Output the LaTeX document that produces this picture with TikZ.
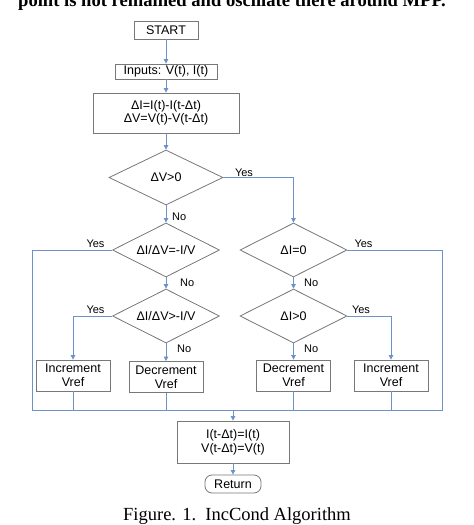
\documentclass[tikz,border=0pt]{standalone}
\usepackage{fontspec}
\setmainfont{Liberation Sans}
\newfontfamily\seriffont{Liberation Serif}
\usetikzlibrary{shapes.geometric,arrows.meta,calc}
\definecolor{lineblue}{RGB}{110,145,200}
\definecolor{bord}{RGB}{120,120,120}
\begin{document}
\begin{tikzpicture}[x=1pt,y=-1pt,
 box/.style={draw=bord,line width=0.8pt,inner sep=0pt,align=center,font=\fontsize{12.5}{14}\selectfont},
 dec/.style={draw=bord,line width=0.8pt,diamond,aspect=2,inner sep=0pt,minimum width=107pt,minimum height=54pt,font=\fontsize{12.5}{14}\selectfont},
 wire/.style={draw=lineblue,line width=0.8pt},
 arr/.style={wire,-{Triangle[width=4.5pt,length=4.5pt]}},
 lab/.style={font=\fontsize{11}{12}\selectfont,inner sep=0pt}]
\useasboundingbox (0,0) rectangle (474,525);
\clip (0,0) rectangle (474,525);
\node[anchor=base,inner sep=0pt,font=\seriffont\bfseries\fontsize{18.6}{20}\selectfont] (toptext) at (232,6) {point is not remained and oscillate there around MPP.};
\node[anchor=base,inner sep=0pt,font=\seriffont\fontsize{18.5}{20}\selectfont] (cap) at (237,520) {Figure. 1.\ \ IncCond Algorithm};

\node[box,minimum width=64pt,minimum height=18pt] (start) at (166,30) {START};
\node[box,minimum width=102pt,minimum height=15pt] (inp) at (166,71.5) {Inputs: V(t), I(t)};
\node[box,minimum width=146pt,minimum height=40pt,font=\fontsize{12.5}{12.5}\selectfont] (calc) at (166,113) {ΔI=I(t)-I(t-Δt)\\ΔV=V(t)-V(t-Δt)};
\node[dec,minimum width=114pt,minimum height=55pt] (dv) at (166,177.5) {ΔV>0};
\node[dec] (d1) at (166,250) {ΔI/ΔV=-I/V};
\node[dec] (d2) at (166,316) {ΔI/ΔV>-I/V};
\node[dec] (d3) at (293.5,250) {ΔI=0};
\node[dec] (d4) at (293.5,316) {ΔI>0};
\node[box,minimum width=74pt,minimum height=31pt] (inc1) at (73,375.5) {Increment\\Vref};
\node[box,minimum width=74pt,minimum height=31pt] (dec1) at (166,377) {Decrement\\Vref};
\node[box,minimum width=74pt,minimum height=31pt] (dec2) at (293.5,375.5) {Decrement\\Vref};
\node[box,minimum width=74pt,minimum height=31pt] (inc2) at (391,375.5) {Increment\\Vref};
\node[box,minimum width=112pt,minimum height=42pt] (upd) at (233,442) {I(t-Δt)=I(t)\\V(t-Δt)=V(t)};
\node[box,minimum width=56pt,minimum height=18pt,rounded corners=7pt] (ret) at (233,484) {Return};

\coordinate (bl) at (32,410);
\coordinate (br) at (442,410);
\coordinate (mid) at (233,410);

\draw[arr] (start) -- (inp);
\draw[arr] (inp) -- (calc);
\draw[arr] (calc) -- (dv);
\draw[arr] (dv.east) -| (d3.north);
\draw[arr] (dv.south) -- (d1.north);
\draw[wire] (d1.west) -| (bl) -- (br) |- (d3.east);
\draw[arr] (d1.south) -- (d2.north);
\draw[arr] (d2.west) -| (inc1.north);
\draw[arr] (d2.south) -- (dec1.north);
\draw[arr] (d3.south) -- (d4.north);
\draw[arr] (d4.east) -| (inc2.north);
\draw[arr] (d4.south) -- (dec2.north);
\draw[wire] (inc1.south) -- (inc1.south |- bl);
\draw[wire] (dec1.south) -- (dec1.south |- bl);
\draw[wire] (dec2.south) -- (dec2.south |- bl);
\draw[wire] (inc2.south) -- (inc2.south |- bl);
\draw[arr] (mid) -- (upd.north);
\draw[arr] (upd) -- (ret);

\node[lab] (y0) at (244,173) {Yes};
\node[lab,anchor=west] (n0) at (172,217) {No};
\node[lab] (y1) at (95.5,244) {Yes};
\node[lab,anchor=west] (n1) at (180,283) {No};
\node[lab] (y2) at (95.5,310) {Yes};
\node[lab,anchor=west] (n2) at (177,349) {No};
\node[lab] (y3) at (363.5,244) {Yes};
\node[lab,anchor=west] (n3) at (304,283) {No};
\node[lab] (y4) at (361,310) {Yes};
\node[lab,anchor=west] (n4) at (304,349) {No};
\end{tikzpicture}
\end{document}
